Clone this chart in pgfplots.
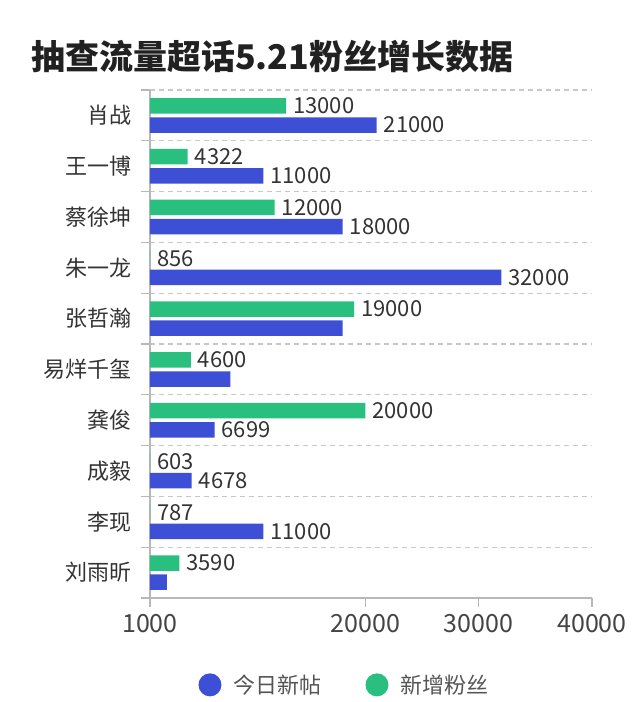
\documentclass[border=0pt]{standalone}
\usepackage{pgfplots}
\pgfplotsset{compat=1.18}
\usepackage{pgfplotstable}
\usepackage{fontspec}
\setmainfont{Noto Sans CJK SC}
\definecolor{blueC}{HTML}{3D4FD5}
\definecolor{greenC}{HTML}{28BF7F}
\definecolor{txt}{HTML}{333333}
\definecolor{tickC}{HTML}{444444}
\definecolor{legC}{HTML}{555555}
\definecolor{gridC}{HTML}{C8C8C8}
\definecolor{axisC}{HTML}{B8B8B8}

\pgfplotstableread{
y blue bluelab green greenlab
9 21000 21000 13000 13000
8 11000 11000 4322 4322
7 18000 18000 12000 12000
6 32000 32000 856 856
5 18000 {} 19000 19000
4 8100 {} 4600 4600
3 6699 6699 20000 20000
2 4678 4678 603 603
1 11000 11000 787 787
0 2500 {} 3590 3590
}\datatable

\begin{document}
\begin{tikzpicture}[x=1pt,y=1pt]
\useasboundingbox (0,0) rectangle (643,702);
\node[anchor=west, inner sep=0pt, text=black!87] at (31,645) {\fontsize{34}{40}\selectfont\bfseries 抽查流量超话5.21粉丝增长数据};
\begin{axis}[
  at={(150pt,104pt)}, anchor=south west,
  scale only axis, width=442pt, height=508pt,
  xbar, bar width=15.5pt,
  xmin=1000, xmax=40000, ymin=-0.5, ymax=9.5,
  axis x line*=bottom, axis y line*=left,
  axis line style={axisC, line width=1.2pt},
  every tick/.style={axisC, line width=1.2pt},
  tick align=outside,
  major tick length=9pt,
  scaled x ticks=false,
  /pgf/number format/1000 sep={},
  xtick={1000,20000,30000,40000},
  xticklabel style={font=\fontsize{25}{30}\selectfont, text=tickC, /pgf/number format/assume math mode=true, yshift=-4pt},
  ytick={-0.5,0.5,...,9.5},
  yticklabels={},
  ymajorgrids,
  major grid style={gridC, line width=1.2pt, dash pattern=on 5pt off 4pt},
  extra y ticks={0,1,2,3,4,5,6,7,8,9},
  extra y tick labels={刘雨昕,李现,成毅,龚俊,易烊千玺,张哲瀚,朱一龙,蔡徐坤,王一博,肖战},
  extra y tick style={major tick length=0pt, grid=none,
    yticklabel style={font=\fontsize{22}{26}\selectfont, text=txt, inner sep=0pt, anchor=east, xshift=-18pt}},
  point meta=explicit symbolic,
  nodes near coords,
  nodes near coords style={font=\fontsize{22}{26}\selectfont, text=txt, inner sep=0pt, anchor=west, xshift=7pt},
  legend style={at={(axis description cs:0.44,-0.171)}, anchor=center, draw=none, fill=none,
    legend columns=2, font=\fontsize{22}{26}\selectfont, text=legC,
    /tikz/every odd column/.append style={column sep=10pt},
    /tikz/every even column/.append style={column sep=42pt}},
]
\addplot[fill=blueC, draw=none, bar shift=-9.6pt,
  legend image code/.code={\fill[blueC] (0pt,0pt) circle (11.5pt);}]
  table[x=blue, y=y, meta=bluelab]{\datatable};
\addlegendentry{今日新帖}
% values below the axis minimum (1000) are drawn at the axis start, as in the reference
\addplot[fill=greenC, draw=none, bar shift=9.6pt,
  x filter/.expression={max(x,1001)},
  legend image code/.code={\fill[greenC] (0pt,0pt) circle (11.5pt);}]
  table[x=green, y=y, meta=greenlab]{\datatable};
\addlegendentry{新增粉丝}
\end{axis}
\end{tikzpicture}
\end{document}
